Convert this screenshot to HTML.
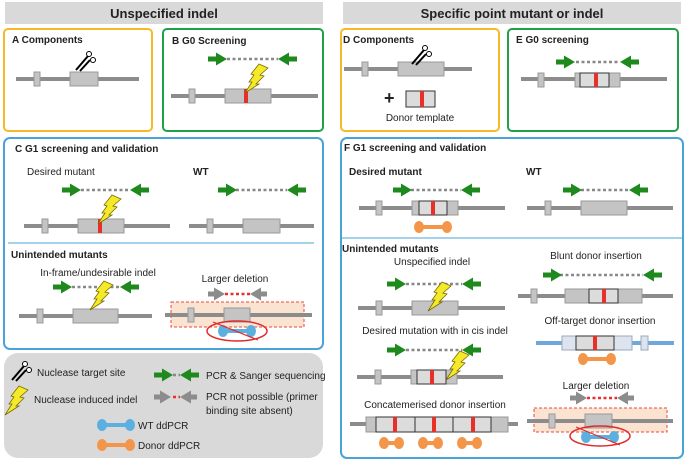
<!DOCTYPE html>
<html><head><meta charset="utf-8"><style>
body{margin:0;background:#fff}
svg{display:block}
text{font-family:"Liberation Sans",sans-serif;font-size:10px;fill:#222}
.b{font-weight:bold}
.h{font-weight:bold;font-size:13px}
</style></head><body>
<svg width="685" height="461" viewBox="0 0 685 461" xmlns="http://www.w3.org/2000/svg">
<defs>
<g id="gR"><polygon points="0,-2.5 8,-2.5 8,-6.5 19,0 8,6.5 8,2.5 0,2.5" fill="#1e8a1e"/></g>
<g id="gL"><polygon points="19,-2.5 11,-2.5 11,-6.5 0,0 11,6.5 11,2.5 19,2.5" fill="#1e8a1e"/></g>
<g id="yR"><polygon points="0,-2.5 6,-2.5 6,-6.5 17,0 6,6.5 6,2.5 0,2.5" fill="#8c8c8c"/></g>
<g id="yL"><polygon points="17,-2.5 11,-2.5 11,-6.5 0,0 11,6.5 11,2.5 17,2.5" fill="#8c8c8c"/></g>
<g id="bolt"><polygon points="14,0 23,4 15,11 19,12 11,20 14,20 0,29 7,18 4,18 9,11 6,10" fill="#f4ea2a" stroke="#7a6a00" stroke-width="0.8"/></g>
<g id="sc"><line x1="-8" y1="8" x2="4" y2="-6" stroke="#000" stroke-width="2"/><line x1="-4" y1="9" x2="6" y2="-2" stroke="#000" stroke-width="2"/><circle cx="5" cy="-8" r="2.5" fill="#fff" stroke="#000"/><circle cx="9" cy="-2" r="2.5" fill="#fff" stroke="#000"/></g>
<g id="db"><rect x="4" y="-2" width="30" height="4" fill="#f4964a"/><ellipse cx="5" cy="0" rx="5" ry="6" fill="#f4964a"/><ellipse cx="33" cy="0" rx="5" ry="6" fill="#f4964a"/></g>
<g id="dbs"><rect x="4" y="-2" width="16" height="4" fill="#f4964a"/><ellipse cx="5" cy="0" rx="5" ry="6" fill="#f4964a"/><ellipse cx="20" cy="0" rx="5" ry="6" fill="#f4964a"/></g>
<g id="dbb"><rect x="4" y="-2" width="30" height="4" fill="#5bb0e0"/><ellipse cx="5" cy="0" rx="5" ry="6" fill="#5bb0e0"/><ellipse cx="33" cy="0" rx="5" ry="6" fill="#5bb0e0"/></g>
</defs>
<rect x="5" y="2" width="318" height="22" fill="#d9d9d9"/>
<text x="164" y="18" text-anchor="middle" class="h">Unspecified indel</text>
<rect x="343" y="2" width="338" height="22" fill="#d9d9d9"/>
<text x="512" y="18" text-anchor="middle" class="h">Specific point mutant or indel</text>
<rect x="4" y="29" width="148" height="102" rx="4" fill="none" stroke="#f7b928" stroke-width="2"/>
<rect x="163" y="29" width="160" height="102" rx="4" fill="none" stroke="#21a04a" stroke-width="2"/>
<rect x="4" y="138" width="319" height="211" rx="6" fill="none" stroke="#4aa3d8" stroke-width="2"/>
<line x1="8" y1="243" x2="314" y2="243" stroke="#4aa3d8"/>
<rect x="4" y="353" width="319" height="105" rx="14" fill="#d9d9d9"/>
<rect x="341" y="29" width="158" height="102" rx="4" fill="none" stroke="#f7b928" stroke-width="2"/>
<rect x="508" y="29" width="170" height="102" rx="4" fill="none" stroke="#21a04a" stroke-width="2"/>
<rect x="341" y="138" width="342" height="320" rx="6" fill="none" stroke="#4aa3d8" stroke-width="2"/>
<line x1="341" y1="238" x2="683" y2="238" stroke="#4aa3d8"/>

<g stroke="#8c8c8c" stroke-width="4">
<line x1="16" y1="79" x2="139" y2="79"/><line x1="171" y1="96" x2="318" y2="96"/>
<line x1="24" y1="226" x2="170" y2="226"/><line x1="189" y1="226" x2="314" y2="226"/>
<line x1="19" y1="316" x2="152" y2="316"/>
<line x1="344" y1="69" x2="472" y2="69"/><line x1="521" y1="79" x2="667" y2="79"/>
<line x1="359" y1="208" x2="505" y2="208"/><line x1="527" y1="208" x2="673" y2="208"/>
<line x1="358" y1="308" x2="505" y2="308"/><line x1="357" y1="377" x2="503" y2="377"/>
<line x1="350" y1="424" x2="518" y2="424"/><line x1="518" y1="296" x2="673" y2="296"/>
</g>
<rect x="171" y="302" width="133" height="25" fill="#fbe3d2" stroke="#e84a3a" stroke-dasharray="3,2"/>
<line x1="165" y1="315" x2="312" y2="315" stroke="#8c8c8c" stroke-width="4"/>
<rect x="534" y="408" width="133" height="24" fill="#fbe3d2" stroke="#e84a3a" stroke-dasharray="3,2"/>
<line x1="527" y1="421" x2="673" y2="421" stroke="#8c8c8c" stroke-width="4"/>
<line x1="536" y1="343" x2="674" y2="343" stroke="#6fa8dc" stroke-width="4"/>

<g fill="#c4c4c4" stroke="#999" stroke-width="1">
<rect x="34" y="72" width="6" height="14"/><rect x="70" y="72" width="28" height="14"/>
<rect x="189" y="89" width="6" height="14"/><rect x="225" y="89" width="46" height="14"/>
<rect x="42" y="219" width="6" height="14"/><rect x="78" y="219" width="46" height="14"/>
<rect x="207" y="219" width="6" height="14"/><rect x="243" y="219" width="37" height="14"/>
<rect x="37" y="309" width="6" height="14"/><rect x="73" y="309" width="45" height="14"/>
<rect x="188" y="308" width="6" height="14"/><rect x="224" y="308" width="26" height="14"/>
<rect x="362" y="62" width="6" height="14"/><rect x="398" y="62" width="46" height="14"/>
<rect x="538" y="73" width="6" height="14"/><rect x="575" y="73" width="45" height="14"/>
<rect x="376" y="201" width="6" height="14"/><rect x="412" y="201" width="46" height="14"/>
<rect x="545" y="201" width="6" height="14"/><rect x="581" y="201" width="46" height="14"/>
<rect x="376" y="301" width="6" height="14"/><rect x="412" y="301" width="46" height="14"/>
<rect x="375" y="370" width="6" height="14"/><rect x="411" y="370" width="46" height="14"/>
<rect x="366" y="417" width="142" height="15"/>
<rect x="531" y="289" width="6" height="14"/><rect x="565" y="289" width="77" height="14"/>
<rect x="549" y="414" width="6" height="14"/><rect x="585" y="414" width="27" height="14"/>
</g>
<g fill="#dde4ef" stroke="#9ab" stroke-width="1"><rect x="562" y="336" width="70" height="14"/><rect x="641" y="336" width="7" height="14"/></g>
<g fill="#dcdcdc" stroke="#333" stroke-width="1">
<rect x="406" y="91" width="29" height="16"/>
<rect x="580" y="73" width="29" height="14"/>
<rect x="419" y="201" width="28" height="14"/>
<rect x="417" y="370" width="29" height="14"/>
<rect x="376" y="417" width="39" height="15"/><rect x="415" y="417" width="38" height="15"/><rect x="453" y="417" width="38" height="15"/>
<rect x="589" y="289" width="29" height="14"/>
<rect x="576" y="336" width="38" height="14"/>
</g>
<g fill="#e8302a">
<rect x="244" y="89" width="4" height="14"/><rect x="98" y="219" width="4" height="14"/>
<rect x="420" y="91" width="4" height="16"/><rect x="594" y="73" width="4" height="14"/>
<rect x="431" y="201" width="4" height="14"/><rect x="430" y="370" width="4" height="14"/>
<rect x="393" y="417" width="4" height="15"/><rect x="432" y="417" width="4" height="15"/><rect x="471" y="417" width="4" height="15"/>
<rect x="602" y="289" width="4" height="14"/><rect x="593" y="336" width="4" height="14"/>
</g>
<g stroke="#888" stroke-width="2.5" stroke-dasharray="3,2.5">
<line x1="227" y1="59" x2="278" y2="59"/><line x1="576" y1="62" x2="620" y2="62"/>
<line x1="81" y1="190" x2="130" y2="190"/><line x1="236" y1="190" x2="287" y2="190"/>
<line x1="72" y1="287" x2="120" y2="287"/>
<line x1="411" y1="190" x2="461" y2="190"/><line x1="581" y1="190" x2="629" y2="190"/>
<line x1="406" y1="284" x2="462" y2="284"/><line x1="406" y1="350" x2="462" y2="350"/>
<line x1="560" y1="275" x2="643" y2="275"/><line x1="173" y1="375" x2="180" y2="375"/>
</g>
<g stroke="#e8302a" stroke-width="2.5" stroke-dasharray="3,2.5">
<line x1="225" y1="294" x2="250" y2="294"/><line x1="587" y1="398" x2="617" y2="398"/><line x1="173" y1="397" x2="180" y2="397"/>
</g>
<use href="#gR" x="208" y="59"/><use href="#gL" x="278" y="59"/>
<use href="#gR" x="556" y="62"/><use href="#gL" x="620" y="62"/>
<use href="#gR" x="62" y="190"/><use href="#gL" x="130" y="190"/>
<use href="#gR" x="218" y="190"/><use href="#gL" x="287" y="190"/>
<use href="#gR" x="53" y="287"/><use href="#gL" x="120" y="287"/>
<use href="#gR" x="393" y="190"/><use href="#gL" x="461" y="190"/>
<use href="#gR" x="563" y="190"/><use href="#gL" x="629" y="190"/>
<use href="#gR" x="387" y="284"/><use href="#gL" x="462" y="284"/>
<use href="#gR" x="387" y="350"/><use href="#gL" x="462" y="350"/>
<use href="#gR" x="543" y="275"/><use href="#gL" x="643" y="275"/>
<use href="#gR" x="154" y="375"/><use href="#gL" x="180" y="375"/>
<use href="#yR" x="208" y="294"/><use href="#yL" x="250" y="294"/>
<use href="#yR" x="570" y="398"/><use href="#yL" x="617" y="398"/>
<use href="#yR" x="154" y="397"/><use href="#yL" x="180" y="397"/>
<use href="#bolt" x="245" y="64"/><use href="#bolt" x="98" y="195"/>
<use href="#bolt" x="90" y="281"/><use href="#bolt" x="428" y="282"/>
<use href="#bolt" x="446" y="351"/><use href="#bolt" x="5" y="386"/>
<use href="#sc" x="84" y="62"/><use href="#sc" x="420" y="56"/><use href="#sc" x="20" y="372"/>
<use href="#db" x="414" y="227"/><use href="#db" x="578" y="359"/>
<use href="#dbs" x="379" y="443"/><use href="#dbs" x="418" y="443"/><use href="#dbs" x="457" y="443"/>
<use href="#dbb" x="218" y="331"/><use href="#dbb" x="581" y="437"/>
<use href="#dbb" x="97" y="425"/><use href="#db" x="97" y="445"/>
<ellipse cx="237" cy="331" rx="30" ry="10" fill="none" stroke="#e02a2a" stroke-width="1.5"/>
<line x1="213" y1="322" x2="258" y2="340" stroke="#e02a2a" stroke-width="1.2"/>
<ellipse cx="600" cy="436" rx="30" ry="10" fill="none" stroke="#e02a2a" stroke-width="1.5"/>
<line x1="576" y1="427" x2="620" y2="445" stroke="#e02a2a" stroke-width="1.2"/>
<text x="384" y="104" style="font-size:18px;font-weight:bold">+</text>
<text x="12" y="43" class="b">A Components</text>
<text x="172" y="44" class="b">B  G0 Screening</text>
<text x="15" y="152" class="b">C G1 screening and validation</text>
<text x="27" y="175">Desired mutant</text>
<text x="193" y="175" class="b">WT</text>
<text x="11" y="258" class="b">Unintended mutants</text>
<text x="98" y="276" text-anchor="middle">In-frame/undesirable indel</text>
<text x="235" y="282" text-anchor="middle">Larger deletion</text>
<text x="37" y="376">Nuclease target site</text>
<text x="34" y="403">Nuclease induced indel</text>
<text x="206" y="379">PCR &amp; Sanger sequencing</text>
<text x="206" y="400">PCR not possible (primer</text>
<text x="206" y="414">binding site absent)</text>
<text x="138" y="429">WT ddPCR</text>
<text x="138" y="449">Donor ddPCR</text>
<text x="343" y="43" class="b">D Components</text>
<text x="420" y="121" text-anchor="middle">Donor template</text>
<text x="516" y="43" class="b">E G0 screening</text>
<text x="344" y="151" class="b">F G1 screening and validation</text>
<text x="349" y="175" class="b">Desired mutant</text>
<text x="526" y="175" class="b">WT</text>
<text x="342" y="252" class="b">Unintended mutants</text>
<text x="432" y="265" text-anchor="middle">Unspecified indel</text>
<text x="435" y="334" text-anchor="middle">Desired mutation with in cis indel</text>
<text x="435" y="408" text-anchor="middle">Concatemerised donor insertion</text>
<text x="596" y="259" text-anchor="middle">Blunt donor insertion</text>
<text x="600" y="324" text-anchor="middle">Off-target donor insertion</text>
<text x="596" y="389" text-anchor="middle">Larger deletion</text>
</svg>
</body></html>
